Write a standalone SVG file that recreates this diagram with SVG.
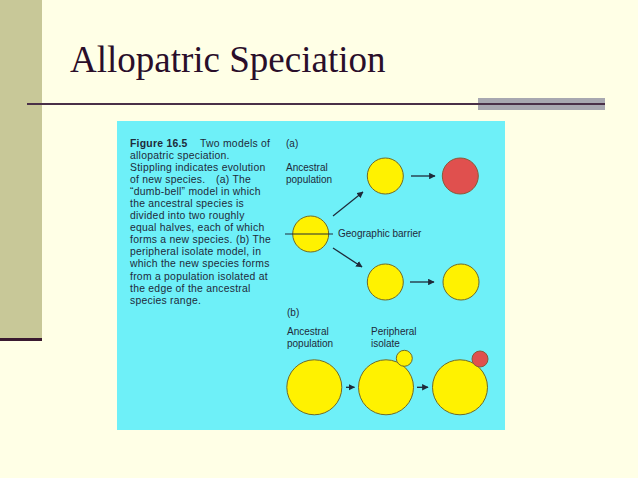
<svg xmlns="http://www.w3.org/2000/svg" width="638" height="478" viewBox="0 0 638 478">
<style>
.cap{font-family:"Liberation Sans",Arial,sans-serif;font-size:10.4px;letter-spacing:0.25px;fill:#1e2a3a}
.lbl{font-family:"Liberation Sans",Arial,sans-serif;font-size:10px;fill:#1e2a3a}
.y{fill:#fff200;stroke:#6e6a2a;stroke-width:1}
.r{fill:#e0504e;stroke:#8a5a3a;stroke-width:1}
.arr{stroke:#1e2a3a;stroke-width:1.3;fill:none;marker-end:url(#ah)}
</style>
<defs>
<marker id="ah" viewBox="0 0 10 10" refX="9" refY="5" markerWidth="5" markerHeight="5" orient="auto" markerUnits="strokeWidth">
<path d="M0,0 L10,5 L0,10 z" fill="#1e2a3a"/>
</marker>
</defs>
<rect width="638" height="478" fill="#ffffe6"/>
<rect x="0" y="0" width="42" height="340" fill="#c8c898"/>
<rect x="0" y="338" width="42" height="3" fill="#3a1a30"/>
<text x="70" y="72" font-family="Liberation Serif,Times New Roman,serif" font-size="37" fill="#2a0e2a">Allopatric Speciation</text>
<rect x="478" y="98" width="127" height="12" fill="#a8a8b0"/>
<line x1="27" y1="104" x2="605" y2="104" stroke="#4a3048" stroke-width="2"/>
<rect x="117" y="121" width="388" height="309" fill="#6ef0f8"/>
<g id="caption" class="cap">
<text x="130" y="147"><tspan font-weight="bold">Figure 16.5</tspan><tspan x="200">Two models of</tspan></text>
<text x="130" y="159">allopatric speciation.</text>
<text x="130" y="171">Stippling indicates evolution</text>
<text x="130" y="183">of new species.<tspan x="216">(a) The</tspan></text>
<text x="130" y="195">“dumb-bell” model in which</text>
<text x="130" y="207">the ancestral species is</text>
<text x="130" y="219">divided into two roughly</text>
<text x="130" y="231">equal halves, each of which</text>
<text x="130" y="243">forms a new species.<tspan x="236">(b) The</tspan></text>
<text x="130" y="255">peripheral isolate model, in</text>
<text x="130" y="267">which the new species forms</text>
<text x="130" y="280">from a population isolated at</text>
<text x="130" y="292">the edge of the ancestral</text>
<text x="130" y="304">species range.</text>
</g>
<g id="labels" class="lbl">
<text x="286" y="147">(a)</text>
<text x="286" y="171">Ancestral</text>
<text x="286" y="183">population</text>
<text x="338" y="237">Geographic barrier</text>
<text x="287" y="316">(b)</text>
<text x="287" y="335">Ancestral</text>
<text x="287" y="347">population</text>
<text x="371" y="335">Peripheral</text>
<text x="371" y="347">isolate</text>
</g>
<g id="a-ancestral"><circle class="y" cx="310.7" cy="234" r="18"/></g>
<g id="a-top1"><circle class="y" cx="385.3" cy="176" r="18"/></g>
<g id="a-top2"><circle class="r" cx="460.3" cy="176" r="18"/></g>
<g id="a-bot1"><circle class="y" cx="385.3" cy="282" r="18"/></g>
<g id="a-bot2"><circle class="y" cx="461" cy="282" r="18"/></g>
<g id="b-1"><circle class="y" cx="314.3" cy="387.3" r="27.5"/></g>
<g id="b-2"><circle class="y" cx="386" cy="387.3" r="27.5"/><circle class="y" cx="404.3" cy="358.3" r="8"/></g>
<g id="b-3"><circle class="y" cx="460" cy="387.3" r="27.5"/><circle class="r" cx="480" cy="359" r="8"/></g>
<g id="connectors">
<line x1="285" y1="234" x2="333" y2="234" stroke="#1e2a3a" stroke-width="1.2"/>
<line class="arr" x1="411" y1="176" x2="435" y2="176"/>
<line class="arr" x1="410" y1="282" x2="434" y2="282"/>
<line class="arr" x1="333" y1="216" x2="363" y2="192"/>
<line class="arr" x1="333" y1="248" x2="362" y2="267"/>
<line class="arr" x1="346" y1="387.3" x2="354.5" y2="387.3"/>
<line class="arr" x1="417" y1="387.3" x2="428" y2="387.3"/>
</g>
</svg>
